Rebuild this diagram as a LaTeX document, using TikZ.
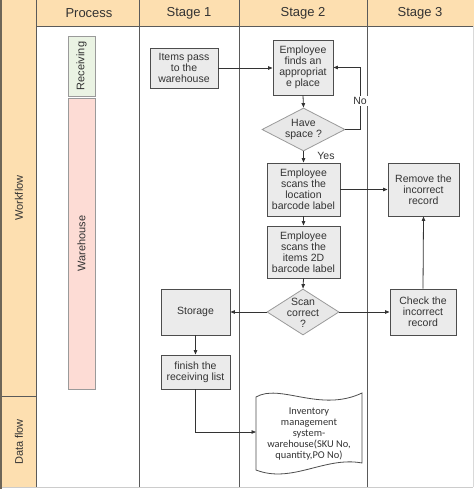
\documentclass[tikz,border=0pt]{standalone}
\usepackage{fontspec}
\setmainfont{Liberation Sans}
\newfontfamily\docfont{Carlito}
\usetikzlibrary{arrows.meta,shapes.geometric}
\definecolor{band}{HTML}{FDDFB0}
\definecolor{edgec}{HTML}{6E6658}
\definecolor{divc}{HTML}{5A5A5A}
\definecolor{recv}{HTML}{EAF3E3}
\definecolor{whse}{HTML}{FDDCD5}
\definecolor{boxf}{HTML}{EBEBEB}
\definecolor{boxd}{HTML}{4D4D4D}
\definecolor{diaf}{HTML}{E8E8E8}
\definecolor{diad}{HTML}{9A9A9A}
\definecolor{txt}{HTML}{333333}
\tikzset{
  x=1pt,y=-1pt,
  stepbox/.style={draw=boxd,fill=boxf,line width=0.9pt,inner sep=0pt,align=center,
    font=\fontsize{10.5}{11}\selectfont,text=txt},
  diabox/.style={diamond,draw=diad,fill=diaf,line width=0.8pt,inner sep=0pt},
  diatext/.style={align=center,font=\fontsize{10.5}{11}\selectfont,text=txt,inner sep=0pt},
  lane/.style={draw=diad,line width=0.7pt,inner sep=0pt},
  lanetext/.style={rotate=90,font=\fontsize{11}{12}\selectfont,text=txt},
  head/.style={font=\fontsize{13}{14}\selectfont,text=txt},
  conn/.style={draw=txt,line width=0.8pt,-{Triangle[length=4.5pt,width=3.5pt]}},
  divline/.style={draw=divc,line width=0.8pt},
  lbl/.style={font=\fontsize{10.5}{11}\selectfont,text=txt,inner sep=1pt}
}
\begin{document}
\begin{tikzpicture}
\useasboundingbox (0,0) rectangle (474,489);
% background
\fill[white] (0,0) rectangle (474,489);
% left band and header
\fill[band] (2,0) rectangle (36,487);
\fill[band] (36,0) rectangle (474,26);
\draw[edgec,line width=2pt] (1,0) -- (1,489);
\draw[divline] (2,396) -- (36,396);
\draw[divline] (36,26) -- (474,26);
\foreach \xx in {36,139,239,367} \draw[divline] (\xx,0) -- (\xx,487);
\draw[draw=black!20,line width=0.8pt] (2,487) -- (473,487);
\draw[draw=black!15,line width=0.6pt] (473,26) -- (473,487);
% header labels
\node[head] (hproc) at (89,13) {Process};
\node[head] (hs1) at (189,13) {Stage 1};
\node[head] (hs2) at (303,13) {Stage 2};
\node[head] (hs3) at (420,13) {Stage 3};
% band labels
\node[lanetext] (wf) at (19,198) {Workflow};
\node[lanetext] (df) at (19,442) {Data flow};
% process lanes
\node[lane,fill=recv,minimum width=27pt,minimum height=60pt] (recvbox) at (81.5,66) {};
\node[lanetext] (recvt) at (recvbox.center) {Receiving};
\node[lane,fill=whse,minimum width=27pt,minimum height=291pt] (whsebox) at (81.5,243.5) {};
\node[lanetext] (whset) at (whsebox.center) {Warehouse};
% steps
\node[stepbox,minimum width=68pt,minimum height=40pt] (items) at (184,68) {Items pass\\to the\\warehouse};
\node[stepbox,minimum width=60pt,minimum height=55pt] (finds) at (303,67.5) {Employee\\finds an\\appropriat\\e place};
\node[diabox,minimum width=83pt,minimum height=43pt] (space) at (303.5,129.5) {};
\node[diatext] (spacet) at (space.center) {Have\\space ?};
\node[stepbox,minimum width=73pt,minimum height=53pt] (scanloc) at (303.5,189.5) {Employee\\scans the\\location\\barcode label};
\node[stepbox,minimum width=73pt,minimum height=52pt] (scanitems) at (303.5,252) {Employee\\scans the\\items 2D\\barcode label};
\node[stepbox,minimum width=71pt,minimum height=53pt] (remove) at (423.5,189.5) {Remove the\\incorrect\\record};
\node[diabox,minimum width=72pt,minimum height=46pt] (scan) at (303,312) {};
\node[diatext] (scant) at (303,312.5) {Scan\\correct\\?};
\node[stepbox,minimum width=66pt,minimum height=46pt] (check) at (423,312) {Check the\\incorrect\\record};
\node[stepbox,minimum width=69pt,minimum height=46pt] (storage) at (195.5,312) {Storage};
\node[stepbox,minimum width=69pt,minimum height=34pt] (finish) at (195.5,372) {finish the\\receiving list};
% document
\draw[draw=boxd,fill=white,line width=0.8pt]
  (256,397) .. controls (280,383) and (320,413) .. (362,393)
  -- (362,463) .. controls (325,456) and (292,484) .. (256,470) -- cycle;
\node[align=center,inner sep=0pt,font=\docfont\fontsize{10.4}{11}\selectfont,text=txt,minimum width=106pt] (doc) at (309,434) {Inventory\\management\\system-\\warehouse(SKU No,\\quantity,PO No)};
\coordinate (docw) at (256,432);
% connectors
\draw[conn] (items.east) -- (items.east -| finds.west);
\draw[conn] (finds.south) -- (space.north);
\coordinate (nocorner) at (360,129.5);
\draw[conn] (space.east) -- (nocorner) |- (finds.east);
\node[lbl,fill=white] (no) at (360,101) {No};
\draw[conn] (space.south) -- (scanloc.north);
\node[lbl] (yes) at (326,156) {Yes};
\draw[conn] (scanloc.south) -- (scanitems.north);
\draw[conn] (scanitems.south) -- (scan.north);
\draw[conn] (scanloc.east) -- (remove.west);
\draw[conn] (scan.west) -- (storage.east);
\draw[conn] (scan.east) -- (check.west);
\draw[conn] (check.north) -- (remove.south);
\draw[conn] (storage.south) -- (finish.north);
\draw[conn] (finish.south) |- (docw);
\end{tikzpicture}
\end{document}
